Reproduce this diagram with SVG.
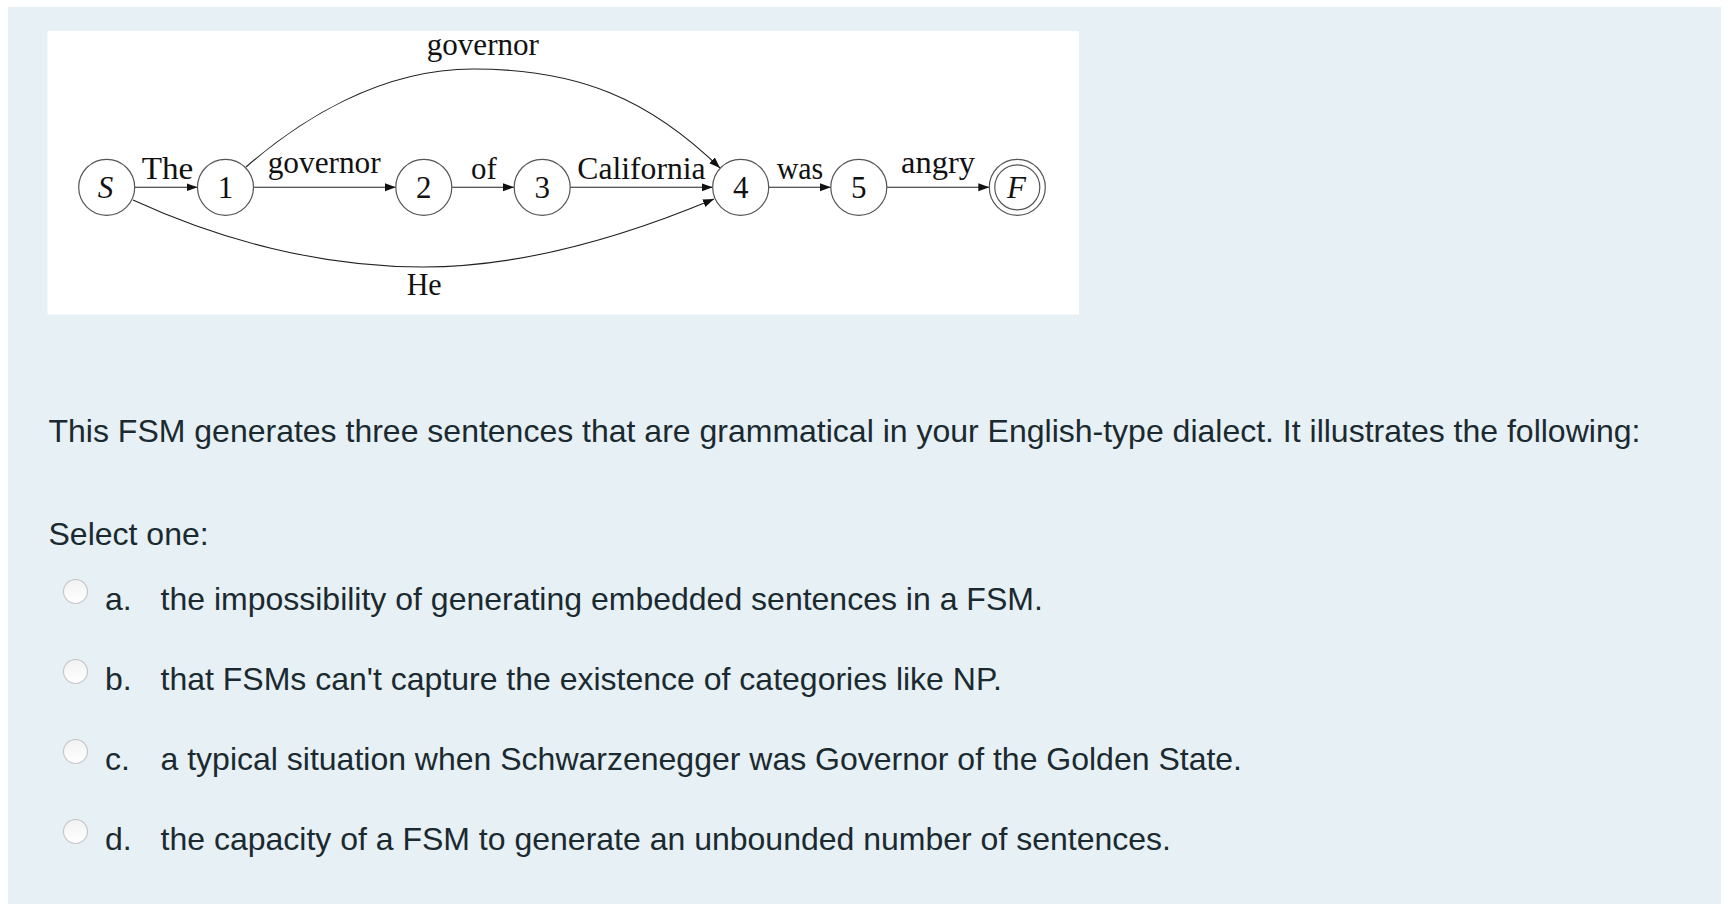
<svg xmlns="http://www.w3.org/2000/svg" width="1736" height="906" viewBox="0 0 1736 906">
<style>
.node{fill:#fff;stroke:#555;stroke-width:1.2}
.nl{font-family:"Liberation Serif",serif;font-size:31px;fill:#111;text-anchor:middle}
.it{font-style:italic}
.el{font-family:"Liberation Serif",serif;font-size:31.5px;fill:#111}
.edge{fill:none;stroke:#222;stroke-width:1.1}
.q{font-family:"Liberation Sans",Arial,sans-serif;font-size:32px;fill:#1a2a30}
.radio{fill:url(#rg);stroke:#c4c4c4;stroke-width:1.1}
</style>
<defs>
<marker id="ah" markerUnits="userSpaceOnUse" markerWidth="12" markerHeight="10" refX="11" refY="4" orient="auto">
<path d="M0,0 L11,4 L0,8 z" fill="#111"/>
</marker>
<linearGradient id="rg" x1="0" y1="0" x2="0" y2="1">
<stop offset="0" stop-color="#f2f2f2"/>
<stop offset="1" stop-color="#ffffff"/>
</linearGradient>
</defs>
<rect x="0" y="0" width="1736" height="906" fill="#fff"/>
<rect x="8" y="7" width="1713" height="897" fill="#e7f0f4"/>
<rect x="47.5" y="31" width="1031.5" height="283.5" fill="#fff"/>

<g id="connectors">
<line class="edge" x1="134.7" y1="187.3" x2="197.5" y2="187.3" marker-end="url(#ah)"/>
<line class="edge" x1="253.5" y1="187.3" x2="395.8" y2="187.3" marker-end="url(#ah)"/>
<line class="edge" x1="451.8" y1="187.3" x2="514" y2="187.3" marker-end="url(#ah)"/>
<line class="edge" x1="570.2" y1="187.3" x2="712.7" y2="187.3" marker-end="url(#ah)"/>
<line class="edge" x1="768.7" y1="187.3" x2="830.8" y2="187.3" marker-end="url(#ah)"/>
<line class="edge" x1="886.8" y1="187.3" x2="989.3" y2="187.3" marker-end="url(#ah)"/>
<path class="edge" d="M246,167 C300,120 380,69 473,69 C580,69 650,100 720,168" marker-end="url(#ah)"/>
<path class="edge" d="M133,200 C220,240 320,267 423,267 C530,267 640,230 714,199" marker-end="url(#ah)"/>
<text class="el" x="141.7" y="179.3" textLength="51.6" lengthAdjust="spacingAndGlyphs">The</text>
<text class="el" x="267.7" y="173.3" textLength="113" lengthAdjust="spacingAndGlyphs">governor</text>
<text class="el" x="471" y="179.3" textLength="25.7" lengthAdjust="spacingAndGlyphs">of</text>
<text class="el" x="577.3" y="179.3" textLength="128.3" lengthAdjust="spacingAndGlyphs">California</text>
<text class="el" x="776.7" y="179.3" textLength="46.6" lengthAdjust="spacingAndGlyphs">was</text>
<text class="el" x="901" y="173.3" textLength="74" lengthAdjust="spacingAndGlyphs">angry</text>
<text class="el" x="426.7" y="55" textLength="112.3" lengthAdjust="spacingAndGlyphs">governor</text>
<text class="el" x="406.7" y="295" textLength="35" lengthAdjust="spacingAndGlyphs">He</text>
</g>

<g id="node-S"><circle class="node" cx="106.7" cy="187.3" r="28"/><text class="nl it" x="105.5" y="197.8">S</text></g>
<g id="node-1"><circle class="node" cx="225.5" cy="187.3" r="28"/><text class="nl" x="225.5" y="197.8">1</text></g>
<g id="node-2"><circle class="node" cx="423.8" cy="187.3" r="28"/><text class="nl" x="423.8" y="197.8">2</text></g>
<g id="node-3"><circle class="node" cx="542.2" cy="187.3" r="28"/><text class="nl" x="542.2" y="197.8">3</text></g>
<g id="node-4"><circle class="node" cx="740.7" cy="187.3" r="28"/><text class="nl" x="740.7" y="197.8">4</text></g>
<g id="node-5"><circle class="node" cx="858.8" cy="187.3" r="28"/><text class="nl" x="858.8" y="197.8">5</text></g>
<g id="node-F"><circle class="node" cx="1017.3" cy="187.3" r="28"/><circle class="node" cx="1017.3" cy="187.3" r="22.5"/><text class="nl it" x="1016.5" y="197.8">F</text></g>

<g id="question">
<text class="q" x="48.5" y="442">This FSM generates three sentences that are grammatical in your English-type dialect. It illustrates the following:</text>
<text class="q" x="48.5" y="545">Select one:</text>
</g>
<g id="option-a"><circle class="radio" cx="75.5" cy="591.5" r="12"/><text class="q" x="105" y="609.5">a.</text><text class="q" x="160.5" y="609.5">the impossibility of generating embedded sentences in a FSM.</text></g>
<g id="option-b"><circle class="radio" cx="75.5" cy="671.5" r="12"/><text class="q" x="105" y="689.5">b.</text><text class="q" x="160.5" y="689.5">that FSMs can't capture the existence of categories like NP.</text></g>
<g id="option-c"><circle class="radio" cx="75.5" cy="751.5" r="12"/><text class="q" x="105" y="769.5">c.</text><text class="q" x="160.5" y="769.5">a typical situation when Schwarzenegger was Governor of the Golden State.</text></g>
<g id="option-d"><circle class="radio" cx="75.5" cy="831.5" r="12"/><text class="q" x="105" y="849.5">d.</text><text class="q" x="160.5" y="849.5">the capacity of a FSM to generate an unbounded number of sentences.</text></g>
</svg>
